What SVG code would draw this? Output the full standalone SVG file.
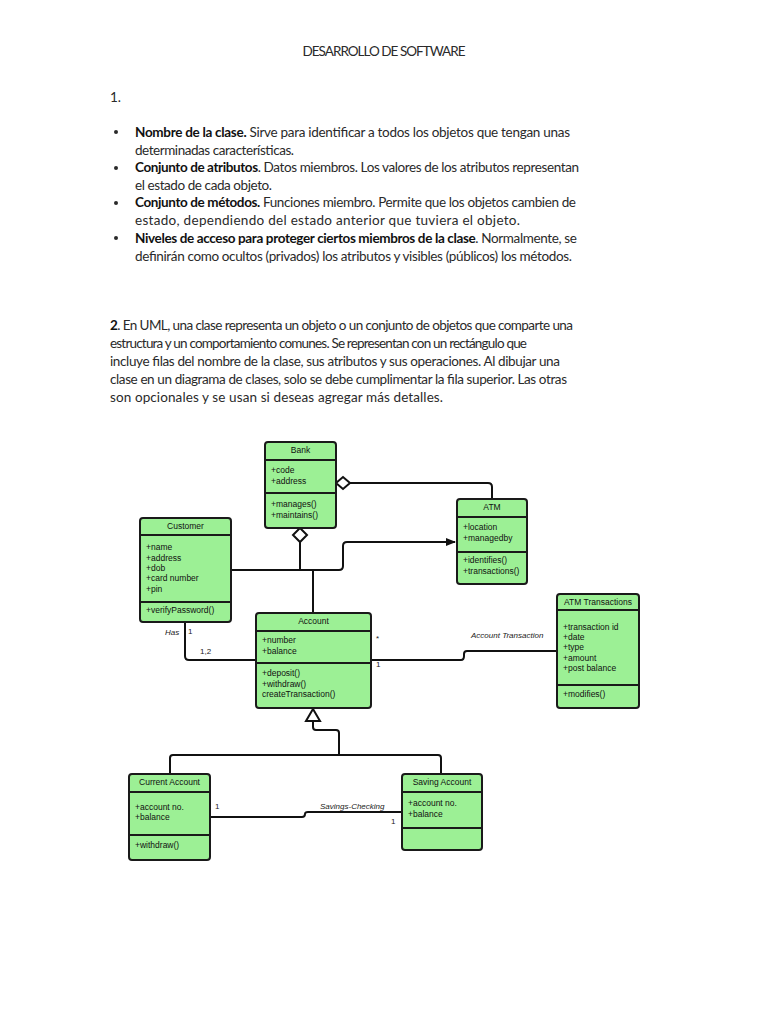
<svg xmlns="http://www.w3.org/2000/svg" width="768" height="1024" viewBox="0 0 768 1024">
<style>
.doc{font-family:Lato,"Open Sans","Liberation Sans",sans-serif;font-size:13.5px;fill:#2a2a2a}
.b{font-weight:bold;fill:#111}
.box{fill:#9cf095;stroke:#1a1a1a;stroke-width:2}
.div{stroke:#1a1a1a;stroke-width:2}
.t{font-family:"Liberation Sans",Arial,sans-serif;font-size:8.5px;fill:#111}
.n{font-family:"Liberation Sans",Arial,sans-serif;font-size:8.5px;fill:#111;text-anchor:middle}
.lbl{font-family:"Liberation Sans",Arial,sans-serif;font-size:8px;fill:#222}
.it{font-style:italic}
.ln{fill:none;stroke:#111;stroke-width:2;stroke-linejoin:round}
</style>
<defs>
<marker id="arr" markerWidth="10" markerHeight="10" refX="9" refY="5" orient="auto" markerUnits="userSpaceOnUse">
<path d="M0,1 L10,5 L0,9 Z" fill="#111"/>
</marker>
</defs>
<rect width="768" height="1024" fill="#fff"/>
<g id="text">
<text class="doc" x="384" y="56" text-anchor="middle" font-size="12.5" textLength="163" lengthAdjust="spacing">DESARROLLO DE SOFTWARE</text>
<text class="doc" x="110" y="102">1.</text>
<g fill="#2a2a2a">
<circle cx="116" cy="132" r="2"/><circle cx="116" cy="168" r="2"/><circle cx="116" cy="203" r="2"/><circle cx="116" cy="238" r="2"/>
</g>
<text class="doc" x="135" y="137" font-size="13.3" textLength="435" lengthAdjust="spacing"><tspan class="b">Nombre de la clase.</tspan> Sirve para identificar a todos los objetos que tengan unas</text>
<text class="doc" x="135" y="155" textLength="159" lengthAdjust="spacing">determinadas características.</text>
<text class="doc" x="135" y="172" font-size="13.3" textLength="444" lengthAdjust="spacing"><tspan class="b">Conjunto de atributos</tspan>. Datos miembros. Los valores de los atributos representan</text>
<text class="doc" x="135" y="190" textLength="137" lengthAdjust="spacing">el estado de cada objeto.</text>
<text class="doc" x="135" y="207" textLength="441" lengthAdjust="spacing"><tspan class="b">Conjunto de métodos.</tspan> Funciones miembro. Permite que los objetos cambien de</text>
<text class="doc" x="135" y="225" font-size="14" textLength="385" lengthAdjust="spacing">estado, dependiendo del estado anterior que tuviera el objeto.</text>
<text class="doc" x="135" y="243" textLength="442" lengthAdjust="spacing"><tspan class="b">Niveles de acceso para proteger ciertos miembros de la clase</tspan>. Normalmente, se</text>
<text class="doc" x="135" y="261" textLength="437" lengthAdjust="spacing">definirán como ocultos (privados) los atributos y visibles (públicos) los métodos.</text>
<text class="doc" x="110" y="330" font-size="13.3" textLength="463" lengthAdjust="spacing"><tspan class="b">2</tspan>. En UML, una clase representa un objeto o un conjunto de objetos que comparte una</text>
<text class="doc" x="110" y="348" font-size="12.9" textLength="417" lengthAdjust="spacing">estructura y un comportamiento comunes. Se representan con un rectángulo que</text>
<text class="doc" x="110" y="366" textLength="450" lengthAdjust="spacing">incluye filas del nombre de la clase, sus atributos y sus operaciones. Al dibujar una</text>
<text class="doc" x="110" y="384" font-size="13.3" textLength="457" lengthAdjust="spacing">clase en un diagrama de clases, solo se debe cumplimentar la fila superior. Las otras</text>
<text class="doc" x="110" y="402" font-size="14" textLength="333" lengthAdjust="spacing">son opcionales y se usan si deseas agregar más detalles.</text>
</g>
<g id="connectors">
<path class="ln" d="M350,483 H488 Q492,483 492,487 V499"/>
<path d="M336,483 L343,477 L350,483 L343,489 Z" fill="#fff" stroke="#111" stroke-width="2"/>
<path class="ln" d="M300,542 V570"/>
<path d="M300,528 L307,535 L300,542 L293,535 Z" fill="#fff" stroke="#111" stroke-width="2"/>
<path class="ln" d="M231,570 H339 Q343,570 343,566 V546 Q343,542 347,542 H455" marker-end="url(#arr)"/>
<path class="ln" d="M313,570 V612"/>
<path class="ln" d="M185,622 V656 Q185,660 189,660 H256"/>
<path class="ln" d="M371,660 H461 Q464,660 464,656 V654 Q464,651 467,651 H557"/>
<path class="ln" d="M313,721 V727 Q313,730 316,730 H336 Q339,730 339,733 V755"/>
<path d="M313,709 L320,721 L306,721 Z" fill="#fff" stroke="#111" stroke-width="2" stroke-linejoin="miter"/>
<path class="ln" d="M170,774 V758 Q170,755 173,755 H438 Q441,755 441,758 V774"/>
<path class="ln" d="M210,817 H302 Q305,817 305,814 Q305,812 308,812 H402"/>
<text class="lbl it" x="165" y="635">Has</text>
<text class="lbl" x="188" y="634">1</text>
<text class="lbl" x="200" y="654">1,2</text>
<text class="lbl" x="376" y="641">*</text>
<text class="lbl" x="376" y="667">1</text>
<text class="lbl it" x="471" y="638">Account Transaction</text>
<text class="lbl" x="215" y="809">1</text>
<text class="lbl" x="391" y="824">1</text>
<text class="lbl it" x="320" y="809">Savings-Checking</text>
</g>
<g id="bank">
<rect class="box" x="265" y="442" width="71" height="86" rx="3"/>
<line class="div" x1="265" y1="460" x2="336" y2="460"/>
<line class="div" x1="265" y1="493" x2="336" y2="493"/>
<text class="n" x="300.5" y="453">Bank</text>
<text class="t" x="271" y="473">+code</text>
<text class="t" x="271" y="484">+address</text>
<text class="t" x="271" y="507">+manages()</text>
<text class="t" x="271" y="518">+maintains()</text>
</g>
<g id="atm">
<rect class="box" x="457" y="499" width="70" height="85" rx="3"/>
<line class="div" x1="457" y1="517" x2="527" y2="517"/>
<line class="div" x1="457" y1="552" x2="527" y2="552"/>
<text class="n" x="492" y="510">ATM</text>
<text class="t" x="463" y="530">+location</text>
<text class="t" x="463" y="541">+managedby</text>
<text class="t" x="463" y="563">+identifies()</text>
<text class="t" x="463" y="574">+transactions()</text>
</g>
<g id="customer">
<rect class="box" x="140" y="518" width="91" height="104" rx="3"/>
<line class="div" x1="140" y1="535" x2="231" y2="535"/>
<line class="div" x1="140" y1="602" x2="231" y2="602"/>
<text class="n" x="185.5" y="529">Customer</text>
<text class="t" x="146" y="550">+name</text>
<text class="t" x="146" y="561">+address</text>
<text class="t" x="146" y="571">+dob</text>
<text class="t" x="146" y="581">+card number</text>
<text class="t" x="146" y="592">+pin</text>
<text class="t" x="146" y="613">+verifyPassword()</text>
</g>
<g id="account">
<rect class="box" x="256" y="613" width="115" height="95" rx="3"/>
<line class="div" x1="256" y1="631" x2="371" y2="631"/>
<line class="div" x1="256" y1="663" x2="371" y2="663"/>
<text class="n" x="313.5" y="624">Account</text>
<text class="t" x="262" y="643">+number</text>
<text class="t" x="262" y="654">+balance</text>
<text class="t" x="262" y="676">+deposit()</text>
<text class="t" x="262" y="687">+withdraw()</text>
<text class="t" x="262" y="697">createTransaction()</text>
</g>
<g id="atm-transactions">
<rect class="box" x="557" y="594" width="82" height="114" rx="3"/>
<line class="div" x1="557" y1="610" x2="639" y2="610"/>
<line class="div" x1="557" y1="685" x2="639" y2="685"/>
<text class="n" x="598" y="605">ATM Transactions</text>
<text class="t" x="563" y="630">+transaction id</text>
<text class="t" x="563" y="640">+date</text>
<text class="t" x="563" y="650">+type</text>
<text class="t" x="563" y="661">+amount</text>
<text class="t" x="563" y="671">+post balance</text>
<text class="t" x="563" y="697">+modifies()</text>
</g>
<g id="current-account">
<rect class="box" x="129" y="774" width="81" height="86" rx="3"/>
<line class="div" x1="129" y1="792" x2="210" y2="792"/>
<line class="div" x1="129" y1="835" x2="210" y2="835"/>
<text class="n" x="169.5" y="785">Current Account</text>
<text class="t" x="135" y="810">+account no.</text>
<text class="t" x="135" y="820">+balance</text>
<text class="t" x="135" y="848">+withdraw()</text>
</g>
<g id="saving-account">
<rect class="box" x="402" y="774" width="80" height="76" rx="3"/>
<line class="div" x1="402" y1="792" x2="482" y2="792"/>
<line class="div" x1="402" y1="828" x2="482" y2="828"/>
<text class="n" x="442" y="785">Saving Account</text>
<text class="t" x="408" y="806">+account no.</text>
<text class="t" x="408" y="817">+balance</text>
</g>
</svg>
